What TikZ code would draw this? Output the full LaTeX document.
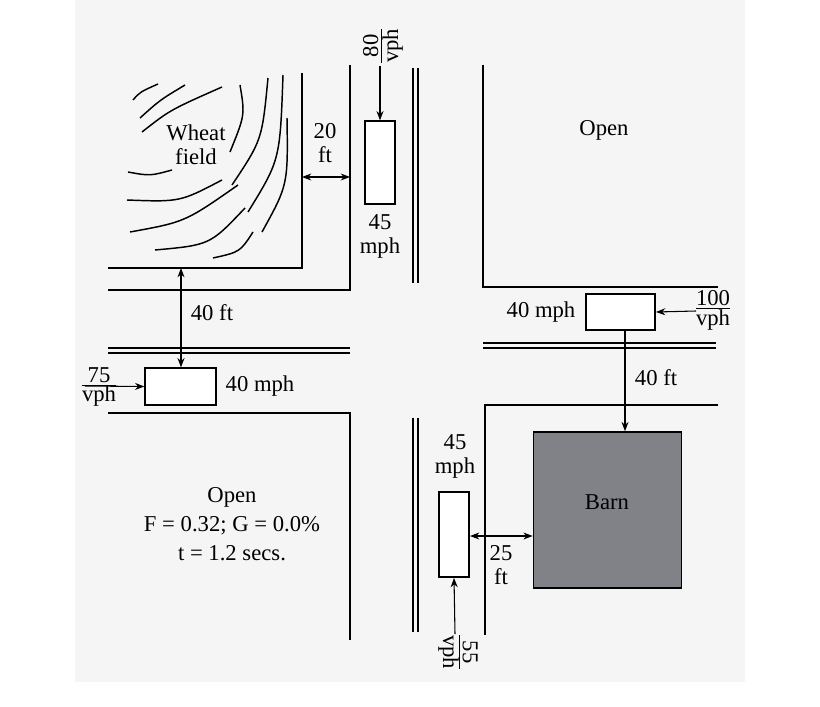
\documentclass[tikz,border=0pt]{standalone}
\usepackage{fontspec}
\setmainfont{Liberation Serif}
\usetikzlibrary{arrows.meta}
\begin{document}
\begin{tikzpicture}[x=0.75pt,y=-0.75pt,
  edge/.style={line width=1.4pt},
  thin2/.style={line width=1pt},
  car/.style={draw,line width=1.2pt,fill=white},
  flow/.style={-{Stealth[length=7pt]},line width=0.8pt},
  dim/.style={{Stealth[length=7pt]}-{Stealth[length=7pt]},line width=0.8pt},
  lbl/.style={font=\fontsize{17}{18}\selectfont,inner sep=1pt,align=center},
  wheat/.style={line width=1.1pt}]
\useasboundingbox (0,0) rectangle (820,706);
\fill[white] (0,0) rectangle (820,706);
\fill[gray!8] (75,0) rectangle (745,682);
% road edges
\draw[edge] (302,73) -- (302,268) -- (108,268);
\draw[edge] (350,65) -- (350,290) -- (108,290);
\draw[thin2] (413,68) -- (413,283) (418,68) -- (418,283);
\draw[thin2] (108,348) -- (350,348) (108,353) -- (350,353);
\draw[edge] (108,413) -- (350,413) -- (350,640);
\draw[thin2] (413,418) -- (413,632) (418,418) -- (418,632);
\draw[edge] (483,65) -- (483,287) -- (718,287);
\draw[thin2] (483,343) -- (716,343) (483,348) -- (716,348);
\draw[edge] (718,405) -- (485,405) -- (485,635);
% wheat field
\draw[wheat] (133,100) .. controls (140,92) .. (158,84);
\draw[wheat] (140,118) .. controls (160,100) .. (185,85);
\draw[wheat] (142,132) .. controls (170,110) .. (222,87);
\draw[wheat] (128,172) .. controls (150,176) .. (172,170);
\draw[wheat] (127,200) .. controls (180,202) .. (222,180);
\draw[wheat] (130,232) .. controls (185,222) .. (238,185);
\draw[wheat] (155,250) .. controls (210,245) .. (245,208);
\draw[wheat] (213,258) .. controls (240,252) .. (253,232);
\draw[wheat] (230,152) .. controls (245,115) .. (240,85);
\draw[wheat] (232,185) .. controls (262,140) .. (268,78);
\draw[wheat] (248,212) .. controls (280,160) .. (283,75);
\draw[wheat] (262,232) .. controls (288,185) .. (287,118);
\node[lbl] (wf) at (196,145) {Wheat\\field};
% top car
\node[car,minimum width=22.5pt,minimum height=62pt,inner sep=0pt] (c1) at (380,162.5) {};
\node[lbl,rotate=90] (f1) at (383,46) {$\frac{\textrm{80}}{\textrm{vph}}$};
\coordinate (s1) at (380,66);
\draw[flow] (s1) -- (c1.north);
\node[lbl] (v1) at (380,236) {45\\mph};
\coordinate (a1) at (302,177); \coordinate (b1) at (350,177);
\draw[dim] (a1) -- (b1);
\node[lbl] (d1) at (325,143) {20\\ft};
% left car
\node[car,minimum width=53pt,minimum height=27.5pt,inner sep=0pt] (c2) at (180.5,386.5) {};
\node[lbl] (f2) at (99,387) {$\frac{\textrm{75}}{\textrm{vph}}$};
\coordinate (s2) at (85,386);
\draw[flow] (s2) -- (c2.west);
\node[lbl] (v2) at (260,386) {40 mph};
\coordinate (a2) at (181,268);
\draw[dim] (a2) -- (c2.north -| a2);
\node[lbl] (d2) at (212,313) {40 ft};
% right car
\node[car,minimum width=52pt,minimum height=27pt,inner sep=0pt] (c3) at (620.5,312) {};
\node[lbl] (f3) at (713,310) {$\frac{\textrm{100}}{\textrm{vph}}$};
\coordinate (s3) at (696,311);
\draw[flow] (s3) -- (c3.east);
\node[lbl] (v3) at (541,312) {40 mph};
% barn
\node[draw,line width=1.2pt,fill={rgb,255:red,128;green,130;blue,136},minimum width=111pt,minimum height=117pt,inner sep=0pt] (barn) at (607.5,510) {};
\node[lbl] (bl) at (607,502) {Barn};
\coordinate (a3) at (625,331);
\draw[flow] (a3) -- (barn.north -| a3);
\node[lbl] (d3) at (656,378) {40 ft};
% bottom car
\node[car,minimum width=22.5pt,minimum height=64pt,inner sep=0pt] (c4) at (454,534.5) {};
\node[lbl] (v4) at (455,456) {45\\mph};
\coordinate (s4) at (455,634);
\draw[flow] (s4) -- (c4.south);
\node[lbl,rotate=-90] (f4) at (458,652) {$\frac{\textrm{55}}{\textrm{vph}}$};
\coordinate (a4) at (470,536);
\draw[dim] (a4) -- (barn.west |- a4);
\node[lbl] (d4) at (501,565) {25\\ft};
% texts
\node[lbl,font=\fontsize{17}{21}\selectfont] (o1) at (604,130) {Open};
\node[lbl,font=\fontsize{17}{22}\selectfont] (o2) at (232,524) {Open\\F = 0.32; G = 0.0\%\\t = 1.2 secs.};
\end{tikzpicture}
\end{document}
